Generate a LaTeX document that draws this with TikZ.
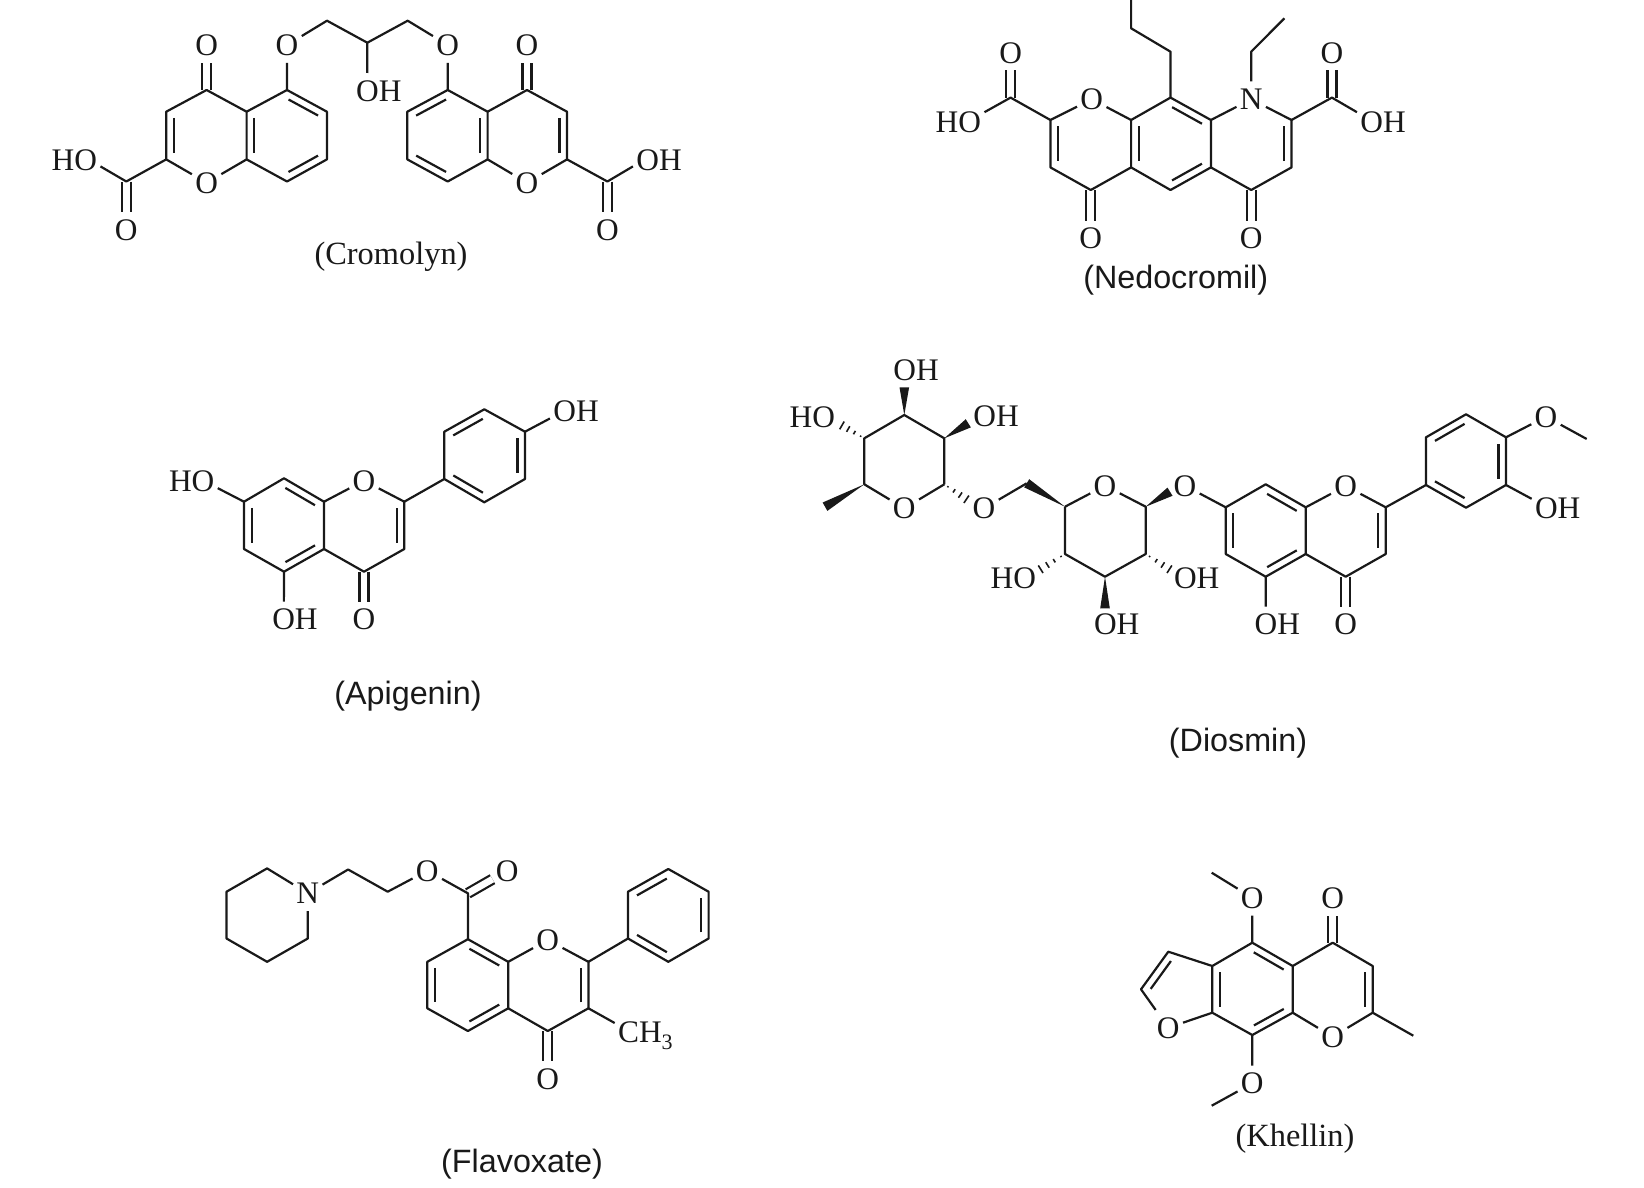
\documentclass[tikz,border=0pt]{standalone}
\usepackage{fontspec}
\setmainfont{Liberation Serif}
\newfontfamily\capfont{Liberation Sans}
\usetikzlibrary{calc}

\tikzstyle{every picture}+=[line join=round]
\tikzstyle{atom}=[inner xsep=1.5pt,inner ysep=3.5pt,text height=10.4pt,text depth=0pt,text=black!90,font=\fontsize{15.7}{16}\selectfont]
\tikzstyle{bond}=[line width=1.1pt,draw=black!90]
\tikzstyle{dblbond}=[line width=1.1pt,draw=black!90,double=white,double distance=3.4pt]
\tikzstyle{capserif}=[text=black!90,font=\fontsize{16.2}{17}\selectfont]
\tikzstyle{capsans}=[text=black!90,font=\capfont\fontsize{16.15}{17}\selectfont]

\newcommand{\inbond}[2]{\draw[bond] ($(#1)!.13!(#2)!3.8pt!90:(#2)$) -- ($(#2)!.13!(#1)!3.8pt!-90:(#1)$);}
\newcommand{\wedgebond}[2]{\fill[black!90] (#1) -- ($(#2)!2.4pt!90:(#1)$) -- ($(#2)!2.4pt!-90:(#1)$) -- cycle;}
\newcommand{\hashbond}[2]{\foreach \t in {.14,.38,.62,.86}{\draw[line width=.8pt,draw=black!90] ($(#1)!\t!(#2)!\t*2.6pt!90:(#2)$) -- ($(#1)!\t!(#2)!\t*2.6pt!-90:(#2)$);}}

\begin{document}
\begin{tikzpicture}[x=.5pt,y=-.5pt]
\useasboundingbox (0,0) rectangle (1644,1188);

% Cromolyn
\coordinate (cr4) at (206.6,90); \coordinate (cr4a) at (246.6,111.7); \coordinate (cr8a) at (246.6,159.4);
\coordinate (cr2) at (166.2,159.4); \coordinate (cr3) at (166.2,111.7); \coordinate (cr5) at (287,90);
\coordinate (cr6) at (326.9,111.7); \coordinate (cr7) at (326.9,159.4); \coordinate (cr8) at (287,181.5);
\coordinate (crC) at (126.3,181.5);
\node[atom] (crO1) at (206.6,182.7) {O};
\node[atom] (crO4) at (206.6,45) {O};
\node[atom] (crO5) at (287,45) {O};
\node[atom] (crHO) at (74.4,160.4) {HO};
\node[atom] (crOc) at (126.3,230) {O};
\coordinate (crA) at (327,20.7); \coordinate (crB) at (367.3,42.7); \coordinate (crD) at (407.7,20.7);
\node[atom] (crOH) at (378.8,90.8) {OH};
\coordinate (cs4) at (527,90); \coordinate (cs4a) at (487.6,111.7); \coordinate (cs8a) at (487.6,159.4);
\coordinate (cs2) at (567,159.4); \coordinate (cs3) at (567,111.7); \coordinate (cs5) at (447.7,90);
\coordinate (cs6) at (407.3,111.7); \coordinate (cs7) at (407.3,159.4); \coordinate (cs8) at (447.7,181.5);
\coordinate (csC) at (607.4,181.5);
\node[atom] (csO1) at (527,182.7) {O};
\node[atom] (csO4) at (527,45) {O};
\node[atom] (csO5) at (447.7,45) {O};
\node[atom] (csOH) at (659,160.4) {OH};
\node[atom] (csOc) at (607.4,230) {O};
\draw[dblbond] (cr4) -- (crO4);
\draw[dblbond] (crC) -- (crOc);
\draw[dblbond] (cs4) -- (csO4);
\draw[dblbond] (csC) -- (csOc);
\draw[bond] (crO1) -- (cr2) -- (cr3) -- (cr4) -- (cr4a) -- (cr8a) -- (crO1);
\draw[bond] (cr4a) -- (cr5) -- (cr6) -- (cr7) -- (cr8) -- (cr8a);
\draw[bond] (cr5) -- (crO5) -- (crA) -- (crB) -- (crD) -- (csO5) -- (cs5);
\draw[bond] (crB) -- (crOH.123);
\draw[bond] (cr2) -- (crC) -- (crHO.-13);
\draw[bond] (csO1) -- (cs2) -- (cs3) -- (cs4) -- (cs4a) -- (cs8a) -- (csO1);
\draw[bond] (cs4a) -- (cs5) -- (cs6) -- (cs7) -- (cs8) -- (cs8a);
\draw[bond] (cs2) -- (csC) -- (csOH.193);
\inbond{cr6}{cr5} \inbond{cr4a}{cr8a} \inbond{cr8}{cr7} \inbond{cr3}{cr2}
\inbond{cs5}{cs6} \inbond{cs7}{cs8} \inbond{cs8a}{cs4a} \inbond{cs2}{cs3}
\node[capserif] (crName) at (391,256.8) {(Cromolyn)};

% Nedocromil
\coordinate (ne2) at (1050.4,120); \coordinate (ne3) at (1050.4,167.4); \coordinate (ne4) at (1090.8,190);
\coordinate (ne4a) at (1131.1,167.4); \coordinate (ne8a) at (1131.1,120); \coordinate (ne9) at (1170.5,97.6);
\coordinate (ne9a) at (1210.9,120); \coordinate (ne5a) at (1210.9,167.4); \coordinate (ne10) at (1170.5,190);
\coordinate (ne6) at (1251.2,190); \coordinate (ne7) at (1291.5,167.4); \coordinate (ne8) at (1291.5,120);
\coordinate (neCl) at (1010.6,97.6); \coordinate (neCr) at (1331.9,97.6);
\coordinate (nePa) at (1170.5,51.7); \coordinate (nePb) at (1131.1,28.3); \coordinate (nePc) at (1131.1,0);
\coordinate (neEa) at (1251.2,51.7); \coordinate (neEb) at (1284.4,18.3);
\node[atom] (neO1) at (1091.8,99.3) {O};
\node[atom] (neN) at (1251.2,99.3) {N};
\node[atom] (neO4) at (1090.8,238.3) {O};
\node[atom] (neO6) at (1251.2,238.3) {O};
\node[atom] (neOl) at (1010.6,52.7) {O};
\node[atom] (neOr) at (1331.9,52.7) {O};
\node[atom] (neHO) at (958.4,122.2) {HO};
\node[atom] (neOH) at (1383,122.2) {OH};
\draw[dblbond] (ne4) -- (neO4);
\draw[dblbond] (ne6) -- (neO6);
\draw[dblbond] (neCl) -- (neOl);
\draw[dblbond] (neCr) -- (neOr);
\draw[bond] (neO1) -- (ne2) -- (ne3) -- (ne4) -- (ne4a) -- (ne8a) -- (neO1);
\draw[bond] (ne8a) -- (ne9) -- (ne9a) -- (ne5a) -- (ne10) -- (ne4a);
\draw[bond] (ne9a) -- (neN) -- (ne8) -- (ne7) -- (ne6) -- (ne5a);
\draw[bond] (ne9) -- (nePa) -- (nePb) -- (nePc);
\draw[bond] (neN) -- (neEa) -- (neEb);
\draw[bond] (ne2) -- (neCl) -- (neHO.21);
\draw[bond] (ne8) -- (neCr) -- (neOH.159);
\inbond{ne2}{ne3} \inbond{ne8a}{ne4a} \inbond{ne10}{ne5a} \inbond{ne9a}{ne9} \inbond{ne7}{ne8}
\node[capsans] (neName) at (1175.7,280.5) {(Nedocromil)};

% Apigenin
\coordinate (ap7) at (244,501.7); \coordinate (ap8) at (284,478.3); \coordinate (ap8a) at (324,501.7);
\coordinate (ap2) at (404.3,501.7); \coordinate (ap3) at (404.3,549); \coordinate (ap4) at (364,571.7);
\coordinate (ap4a) at (324,549); \coordinate (ap5) at (284,571.7); \coordinate (ap6) at (244,549);
\coordinate (ap1p) at (444.3,479); \coordinate (ap2p) at (444.3,431.7); \coordinate (ap3p) at (484.3,409.3);
\coordinate (ap4p) at (525,431.7); \coordinate (ap5p) at (525,479); \coordinate (ap6p) at (484.3,502.3);
\node[atom] (apO1) at (364,480.7) {O};
\node[atom] (apO4) at (364,619.3) {O};
\node[atom] (apHO) at (191.7,480.7) {HO};
\node[atom] (apOH) at (295,619.3) {OH};
\node[atom] (apOHp) at (576,411) {OH};
\draw[dblbond] (ap4) -- (apO4);
\draw[bond] (apO1) -- (ap2) -- (ap3) -- (ap4) -- (ap4a) -- (ap8a) -- (apO1);
\draw[bond] (ap8a) -- (ap8) -- (ap7) -- (ap6) -- (ap5) -- (ap4a);
\draw[bond] (apHO.-16) -- (ap7);
\draw[bond] (ap5) -- (apOH.122);
\draw[bond] (ap2) -- (ap1p) -- (ap2p) -- (ap3p) -- (ap4p) -- (ap5p) -- (ap6p) -- (ap1p);
\draw[bond] (ap4p) -- (apOHp.196);
\inbond{ap7}{ap6} \inbond{ap5}{ap4a} \inbond{ap8a}{ap8} \inbond{ap3}{ap2}
\inbond{ap1p}{ap6p} \inbond{ap5p}{ap4p} \inbond{ap3p}{ap2p}
\node[capsans] (apName) at (408,696) {(Apigenin)};

% Diosmin
\coordinate (rh1) at (944.3,484.3); \coordinate (rh2) at (944.3,438.3); \coordinate (rh3) at (904.3,415);
\coordinate (rh4) at (864.3,438.3); \coordinate (rh5) at (864.3,484.3);
\coordinate (rhMe) at (825,506.7); \coordinate (rhW) at (904.3,387.3); \coordinate (rhX) at (968.3,423.3);
\coordinate (rhH) at (838.3,423.3); \coordinate (rhL) at (970,501.7);
\node[atom] (rhO) at (904.3,508.3) {O};
\node[atom] (rhOHa) at (916,370) {OH};
\node[atom] (rhOHb) at (996,416) {OH};
\node[atom] (rhHO) at (812.3,416.7) {HO};
\node[atom] (rhOl) at (984,508.3) {O};
\draw[bond] (rh1) -- (rh2) -- (rh3) -- (rh4) -- (rh5) -- (rhO) -- (rh1);
\wedgebond{rh3}{rhW} \wedgebond{rh2}{rhX} \wedgebond{rh5}{rhMe}
\hashbond{rh4}{rhH} \hashbond{rh1}{rhL}
\coordinate (gl6) at (1026.7,483.3); \coordinate (gl5) at (1065,506.7); \coordinate (gl1) at (1145.7,506.7);
\coordinate (gl2) at (1145.7,554); \coordinate (gl3) at (1105,576.7); \coordinate (gl4) at (1065,554);
\coordinate (glW) at (1170,491.7); \coordinate (glH) at (1036.7,571.7); \coordinate (glX) at (1173.3,571.7);
\coordinate (glY) at (1105,608.3);
\node[atom] (glO) at (1105,485.7) {O};
\node[atom] (glOg) at (1185,485.7) {O};
\node[atom] (glHO) at (1013.3,578.3) {HO};
\node[atom] (glOHa) at (1196.7,578.3) {OH};
\node[atom] (glOHb) at (1116.7,624.3) {OH};
\draw[bond] (rhOl) -- (gl6);
\draw[bond] (gl5) -- (glO) -- (gl1) -- (gl2) -- (gl3) -- (gl4) -- (gl5);
\wedgebond{gl5}{gl6} \wedgebond{gl1}{glW} \wedgebond{gl3}{glY}
\hashbond{gl4}{glH} \hashbond{gl2}{glX}
\coordinate (di7) at (1225.7,507.3); \coordinate (di8) at (1265.7,484.3); \coordinate (di8a) at (1305.7,507.3);
\coordinate (di2) at (1385.7,507.3); \coordinate (di3) at (1385.7,554); \coordinate (di4) at (1345.7,576.7);
\coordinate (di4a) at (1305.7,554); \coordinate (di5) at (1265.7,576.7); \coordinate (di6) at (1225.7,554);
\coordinate (di1p) at (1426,485); \coordinate (di2p) at (1426,437.3); \coordinate (di3p) at (1466,414.3);
\coordinate (di4p) at (1506,437.3); \coordinate (di5p) at (1506,485); \coordinate (di6p) at (1466,507.7);
\coordinate (diMe) at (1586.7,439);
\node[atom] (diO1) at (1345.7,486) {O};
\node[atom] (diO4) at (1345.7,624.3) {O};
\node[atom] (diOH) at (1277.3,624.3) {OH};
\node[atom] (diOm) at (1546,416.7) {O};
\node[atom] (diOHp) at (1557.7,508.3) {OH};
\draw[dblbond] (di4) -- (diO4);
\draw[bond] (glOg) -- (di7);
\draw[bond] (diO1) -- (di2) -- (di3) -- (di4) -- (di4a) -- (di8a) -- (diO1);
\draw[bond] (di8a) -- (di8) -- (di7) -- (di6) -- (di5) -- (di4a);
\draw[bond] (di5) -- (diOH.123);
\draw[bond] (di2) -- (di1p) -- (di2p) -- (di3p) -- (di4p) -- (di5p) -- (di6p) -- (di1p);
\draw[bond] (di4p) -- (diOm) -- (diMe);
\draw[bond] (di5p) -- (diOHp.160);
\inbond{di7}{di6} \inbond{di5}{di4a} \inbond{di8a}{di8} \inbond{di3}{di2}
\inbond{di1p}{di6p} \inbond{di5p}{di4p} \inbond{di3p}{di2p}
\node[capsans] (diName) at (1238,743) {(Diosmin)};

% Flavoxate
\coordinate (pp2) at (267.1,868.4); \coordinate (pp3) at (226.5,891.7); \coordinate (pp4) at (226.5,938.5);
\coordinate (pp5) at (267.1,961.8); \coordinate (pp6) at (307.8,938.5);
\coordinate (flA) at (348.1,869.5); \coordinate (flB) at (387.7,891.7); \coordinate (flC) at (467.9,893.3);
\coordinate (fl8) at (467.9,939.2); \coordinate (fl7) at (427.3,961.8); \coordinate (fl6) at (427.3,1008.3);
\coordinate (fl5) at (467.9,1031); \coordinate (fl4a) at (508.2,1008.3); \coordinate (fl8a) at (508.2,961.8);
\coordinate (fl2) at (588.4,961.8); \coordinate (fl3) at (588.4,1008.3); \coordinate (fl4) at (547.8,1031);
\coordinate (fl1p) at (628,938.5); \coordinate (fl2p) at (628,891.7); \coordinate (fl3p) at (668.3,869);
\coordinate (fl4p) at (708.6,891.7); \coordinate (fl5p) at (708.6,938.5); \coordinate (fl6p) at (668.3,961.8);
\node[atom] (flN) at (307.8,893.3) {N};
\node[atom] (flOe) at (427.3,870.7) {O};
\node[atom] (flOc) at (507.2,870.7) {O};
\node[atom] (flO1) at (547.8,940) {O};
\node[atom] (flO4) at (547.8,1079) {O};
\node[atom] (flCH) at (645.4,1032.4) {CH\raisebox{-3.3pt}{\fontsize{11}{11}\selectfont 3}};
\draw[dblbond] (flC) -- (flOc);
\draw[dblbond] (fl4) -- (flO4);
\draw[bond] (flN) -- (pp2) -- (pp3) -- (pp4) -- (pp5) -- (pp6) -- (flN);
\draw[bond] (flN) -- (flA) -- (flB) -- (flOe) -- (flC) -- (fl8);
\draw[bond] (fl8) -- (fl7) -- (fl6) -- (fl5) -- (fl4a) -- (fl8a) -- (fl8);
\draw[bond] (fl8a) -- (flO1) -- (fl2) -- (fl3) -- (fl4) -- (fl4a);
\draw[bond] (fl3) -- (flCH.163);
\draw[bond] (fl2) -- (fl1p) -- (fl2p) -- (fl3p) -- (fl4p) -- (fl5p) -- (fl6p) -- (fl1p);
\inbond{fl7}{fl6} \inbond{fl5}{fl4a} \inbond{fl8a}{fl8} \inbond{fl3}{fl2}
\inbond{fl1p}{fl6p} \inbond{fl5p}{fl4p} \inbond{fl3p}{fl2p}
\node[capsans] (flName) at (522,1164.3) {(Flavoxate)};

% Khellin
\coordinate (khT) at (1252.3,942.7); \coordinate (khRt) at (1292.7,966); \coordinate (khRb) at (1292.7,1012.7);
\coordinate (khB) at (1252.3,1035); \coordinate (khLb) at (1212.3,1012.7); \coordinate (khLt) at (1212.3,966);
\coordinate (khF3) at (1168.3,951.7); \coordinate (khF2) at (1141,989.3);
\coordinate (kh4) at (1332.7,942.7); \coordinate (kh3) at (1372.7,966); \coordinate (kh2) at (1372.7,1012.7);
\coordinate (khMa) at (1211.7,872.7); \coordinate (khMb) at (1211.7,1105.7); \coordinate (khMc) at (1413.3,1035.7);
\node[atom] (khOf) at (1168.3,1027.7) {O};
\node[atom] (khOa) at (1252.3,897.7) {O};
\node[atom] (khOb) at (1252.3,1083.3) {O};
\node[atom] (khOc) at (1332.7,897.7) {O};
\node[atom] (khO1) at (1332.7,1036.7) {O};
\draw[dblbond] (kh4) -- (khOc);
\draw[bond] (khT) -- (khRt) -- (khRb) -- (khB) -- (khLb) -- (khLt) -- (khT);
\draw[bond] (khLt) -- (khF3) -- (khF2) -- (khOf) -- (khLb);
\draw[bond] (khRt) -- (kh4) -- (kh3) -- (kh2) -- (khO1) -- (khRb);
\draw[bond] (kh2) -- (khMc);
\draw[bond] (khT) -- (khOa) -- (khMa);
\draw[bond] (khB) -- (khOb) -- (khMb);
\inbond{khLt}{khLb} \inbond{khB}{khRb} \inbond{khRt}{khT} \inbond{kh2}{kh3} \inbond{khF3}{khF2}
\node[capserif] (khName) at (1295,1139) {(Khellin)};
\end{tikzpicture}
\end{document}
